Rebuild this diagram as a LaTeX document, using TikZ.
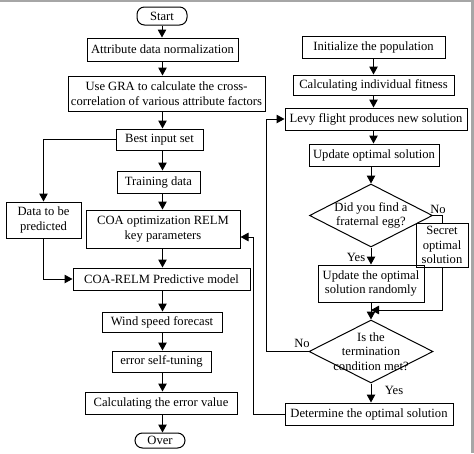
\documentclass[tikz,border=0pt]{standalone}
\usepackage{fontspec}
\setmainfont{Liberation Serif}
\usetikzlibrary{shapes.geometric,arrows.meta}
\begin{document}
\begin{tikzpicture}[x=1pt,y=-1pt,
  txt/.style={font=\fontsize{12.6}{14.5}\selectfont},
  box/.style={draw, line width=1pt, inner sep=0pt, align=center, txt},
  term/.style={box, rounded corners=7.5pt},
  dia/.style={draw, line width=1pt, diamond, inner sep=0pt},
  lbl/.style={txt, inner sep=0pt, align=center},
  ln/.style={line width=1pt},
  arr/.style={line width=1pt, -{Triangle[length=8pt,width=8.5pt]}}]
\useasboundingbox (0,0) rectangle (474,453);
\fill[white] (0,0) rectangle (474,453);
\draw[black!35, line width=2.5pt] (0,1.2) -- (472.7,1.2) -- (472.7,453);

% left column
\node[term, minimum width=50pt, minimum height=18pt] (start) at (162,16) {Start};
\node[box, minimum width=151pt, minimum height=23pt] (norm) at (162.5,49.5) {Attribute data normalization};
\node[box, minimum width=197pt, minimum height=35pt] (gra) at (166.5,93.5) {Use GRA to calculate the cross-\\correlation of various attribute factors};
\node[box, minimum width=87pt, minimum height=21pt] (best) at (159.5,139.5) {Best input set};
\node[box, minimum width=83pt, minimum height=22pt] (train) at (158.5,182) {Training data};
\node[box, minimum width=75pt, minimum height=36pt] (pred) at (43.5,220) {Data to be\\predicted};
\node[box, minimum width=154pt, minimum height=38pt] (coa) at (163,229) {COA optimization RELM\\key parameters};
\node[box, minimum width=177pt, minimum height=22pt] (model) at (161.5,279) {COA-RELM Predictive model};
\node[box, minimum width=120pt, minimum height=20pt] (wind) at (162,322) {Wind speed forecast};
\node[box, minimum width=99pt, minimum height=21pt] (err) at (161.5,361.5) {error self-tuning};
\node[box, minimum width=152pt, minimum height=22pt] (calc) at (161,403) {Calculating the error value};
\node[term, minimum width=50pt, minimum height=15pt] (over) at (160,440.5) {Over};

\draw[arr] (start.south) -- (start.south |- norm.north);
\draw[arr] (norm.south) -- (norm.south |- gra.north);
\draw[arr] (norm.south |- gra.south) -- (norm.south |- best.north);
\draw[arr] (norm.south |- best.south) -- (norm.south |- train.north);
\draw[arr] (norm.south |- train.south) -- (norm.south |- coa.north);
\draw[arr] (norm.south |- coa.south) -- (norm.south |- model.north);
\draw[arr] (norm.south |- model.south) -- (norm.south |- wind.north);
\draw[arr] (norm.south |- wind.south) -- (norm.south |- err.north);
\draw[arr] (norm.south |- err.south) -- (norm.south |- calc.north);
\draw[arr] (norm.south |- calc.south) -- (norm.south |- over.north);
\draw[arr] (best.west) -| (pred.north);
\draw[arr] (pred.south) |- (model.west);

% right column
\node[box, minimum width=143pt, minimum height=22pt] (init) at (373.5,47) {Initialize the population};
\node[box, minimum width=161pt, minimum height=20pt] (fit) at (373.5,85) {Calculating individual fitness};
\node[box, minimum width=182pt, minimum height=22pt] (levy) at (376,119) {Levy flight produces new solution};
\node[box, minimum width=130pt, minimum height=22pt] (upd) at (374,155) {Update optimal solution};
\node[dia, minimum width=123pt, minimum height=63pt] (d1) at (371,215.5) {};
\node[lbl] (d1t) at (d1) {Did you find a\\fraternal egg?};
\node[box, minimum width=106pt, minimum height=37pt] (rand) at (371,283.5) {Update the optimal\\solution randomly};
\node[box, minimum width=52pt, minimum height=44pt] (secret) at (442,245) {Secret\\optimal\\solution};
\node[dia, minimum width=124pt, minimum height=63pt] (d2) at (371,351.5) {};
\node[lbl] (d2t) at (d2) {Is the\\termination\\condition met?};
\node[box, minimum width=168pt, minimum height=22pt] (det) at (369,414) {Determine the optimal solution};

\coordinate (merge) at (371,310);
\coordinate (lx) at (266,0);
\coordinate (rx) at (253,237);

\draw[arr] (init.south) -- (init.south |- fit.north);
\draw[arr] (fit.south) -- (fit.south |- levy.north);
\draw[arr] (fit.south |- levy.south) -- (fit.south |- upd.north);
\draw[arr] (upd.south -| d1.north) -- (d1.north);
\draw[arr] (d1.south) -- (rand.north);
\draw[arr] (rand.south) -- (d2.north);
\draw[arr] (d2.south) -- (d2.south |- det.north);
\draw[ln] (d1.east) -| (secret.north);
\draw[arr] (secret.south) |- (merge);
\draw[arr] (d2.west) -- (d2.west -| lx) |- (levy.west);
\draw[arr] (det.west) -| (rx) -- (rx -| coa.east);

\node[lbl] (no1) at (438,209) {No};
\node[lbl] (yes1) at (356,257) {Yes};
\node[lbl] (no2) at (302,343) {No};
\node[lbl] (yes2) at (394,390) {Yes};
\end{tikzpicture}
\end{document}
